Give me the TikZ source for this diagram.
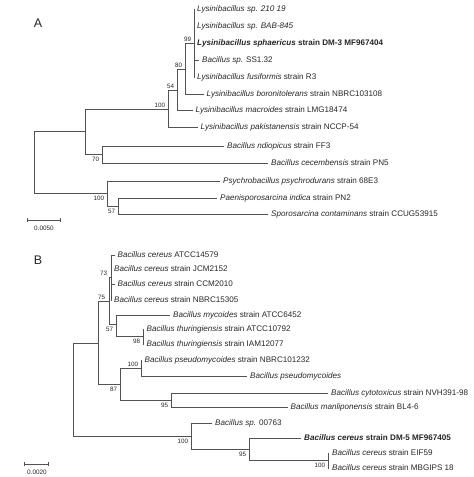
\documentclass[tikz,border=0pt]{standalone}
\usepackage{fontspec}
\setmainfont{Liberation Sans}
\usetikzlibrary{arrows.meta}
\begin{document}
\begin{tikzpicture}[x=1pt,y=-1pt,
  br/.style={draw=black!68, line width=0.8pt},
  lf/.style={anchor=west, inner sep=0pt, font=\fontsize{8.1}{9}\selectfont, text=black!85},
  bs/.style={inner sep=0.6pt, font=\fontsize{6.3}{7}\selectfont, text=black!85},
  bsa/.style={bs, anchor=south east},
  bsb/.style={bs, anchor=north east},
  panel/.style={font=\fontsize{12.5}{13}\selectfont, text=black!85},
  sbar/.style={draw=black!68, line width=0.8pt, {Bar[width=4pt]}-{Bar[width=4pt]}},
  sbl/.style={inner sep=0pt, font=\fontsize{6.4}{7}\selectfont, text=black!85}]
\useasboundingbox (0,0) rectangle (474,477);

% ================= Tree A =================
\node[panel] (pA) at (38,23) {A};
% leaf tips
\coordinate (L1) at (194.5,9);
\coordinate (L2) at (194.5,26);
\coordinate (L3) at (194.5,43);
\coordinate (L4) at (199,60);
\coordinate (L5) at (194.5,77);
\coordinate (L6) at (204,94);
\coordinate (L7) at (193,110);
\coordinate (L8) at (198,127);
\coordinate (L9) at (224,146);
\coordinate (L10) at (268,163);
\coordinate (L11) at (220,181);
\coordinate (L12) at (217,198);
\coordinate (L13) at (268,214);
% internal nodes
\coordinate (n99) at (194,43);
\coordinate (n80) at (185,69);
\coordinate (n54) at (177,90);
\coordinate (nA100) at (168,109);
\coordinate (nA1) at (85,131);
\coordinate (n70) at (102,154);
\coordinate (rA) at (34,162);
\coordinate (nA100b) at (107,193);
\coordinate (nA57) at (118,206);

\foreach \c in {L1,L2,L3,L4,L5} \draw[br] (n99) |- (\c);
\draw[br] (n80) |- (n99); \draw[br] (n80) |- (L6);
\draw[br] (n54) |- (n80); \draw[br] (n54) |- (L7);
\draw[br] (nA100) |- (n54); \draw[br] (nA100) |- (L8);
\draw[br] (nA1) |- (nA100); \draw[br] (nA1) |- (n70);
\draw[br] (n70) |- (L9); \draw[br] (n70) |- (L10);
\draw[br] (rA) |- (nA1); \draw[br] (rA) |- (nA100b);
\draw[br] (nA100b) |- (L11); \draw[br] (nA100b) |- (nA57);
\draw[br] (nA57) |- (L12); \draw[br] (nA57) |- (L13);

\node[lf] (tL1) at (197,9) {\textit{Lysinibacillus sp. 210 19}};
\node[lf] (tL2) at (197,26) {\textit{Lysinibacillus sp. BAB-845}};
\node[lf] (tL3) at (197,43) {\bfseries\textit{Lysinibacillus sphaericus} strain DM-3 MF967404};
\node[lf] (tL4) at (202,60) {\textit{Bacillus sp.} SS1.32};
\node[lf] (tL5) at (197,77) {\textit{Lysinibacillus fusiformis} strain R3};
\node[lf] (tL6) at (206.5,94) {\textit{Lysinibacillus boronitolerans} strain NBRC103108};
\node[lf] (tL7) at (195.5,110) {\textit{Lysinibacillus macroides} strain LMG18474};
\node[lf] (tL8) at (200.5,127) {\textit{Lysinibacillus pakistanensis} strain NCCP-54};
\node[lf] (tL9) at (227,146) {\textit{Bacillus ndiopicus} strain FF3};
\node[lf] (tL10) at (271,163) {\textit{Bacillus cecembensis} strain PN5};
\node[lf] (tL11) at (223,181) {\textit{Psychrobacillus psychrodurans} strain 68E3};
\node[lf] (tL12) at (220,198) {\textit{Paenisporosarcina indica} strain PN2};
\node[lf] (tL13) at (271,214) {\textit{Sporosarcina contaminans} strain CCUG53915};

\node[bsa] (b99) at ([shift={(-2,-1)}]n99) {99};
\node[bsa] (b80) at ([shift={(-2,-1)}]n80) {80};
\node[bsa] (b54) at ([shift={(-2,-1)}]n54) {54};
\node[bsa] (bA100) at ([shift={(-2,-1)}]nA100) {100};
\node[bsb] (b70) at ([shift={(-2,2)}]n70) {70};
\node[bsb] (bA100b) at ([shift={(-2,2)}]nA100b) {100};
\node[bsb] (bA57) at ([shift={(-2,2)}]nA57) {57};

\coordinate (sA1) at (27,220);
\coordinate (sA2) at (61,220);
\draw[sbar] (sA1) -- (sA2);
\node[sbl] (sAl) at (44,228) {0.0050};

% ================= Tree B =================
\node[panel] (pB) at (38,260) {B};
\coordinate (B1) at (115,255);
\coordinate (B2) at (111.5,269);
\coordinate (B3) at (115,284);
\coordinate (B4) at (111.5,300);
\coordinate (B5) at (170,315);
\coordinate (B6) at (144,329);
\coordinate (B7) at (144,344);
\coordinate (B8) at (142,360);
\coordinate (B9) at (247,376);
\coordinate (B10) at (328,393);
\coordinate (B11) at (288,407);
\coordinate (B12) at (212,423);
\coordinate (B13) at (301,438);
\coordinate (B14) at (329,453);
\coordinate (B15) at (329,468);

\coordinate (n73) at (111,277);
\coordinate (n75) at (109,301);
\coordinate (nB57) at (116,324);
\coordinate (n98) at (143,336);
\coordinate (nB2) at (98,343);
\coordinate (n87) at (120,384);
\coordinate (nB100c) at (141,368);
\coordinate (n95a) at (171,400);
\coordinate (rB) at (73,390);
\coordinate (nB100d) at (191,436);
\coordinate (n95b) at (249,449);
\coordinate (nB100e) at (328,460.5);

\foreach \c in {B1,B2,B3,B4} \draw[br] (n73) |- (\c);
\draw[br] (n75) |- (n73); \draw[br] (n75) |- (nB57);
\draw[br] (nB57) |- (B5); \draw[br] (nB57) |- (n98);
\draw[br] (n98) |- (B6); \draw[br] (n98) |- (B7);
\draw[br] (nB2) |- (n75); \draw[br] (nB2) |- (n87);
\draw[br] (n87) |- (nB100c); \draw[br] (n87) |- (n95a);
\draw[br] (nB100c) |- (B8); \draw[br] (nB100c) |- (B9);
\draw[br] (n95a) |- (B10); \draw[br] (n95a) |- (B11);
\draw[br] (rB) |- (nB2); \draw[br] (rB) |- (nB100d);
\draw[br] (nB100d) |- (B12); \draw[br] (nB100d) |- (n95b);
\draw[br] (n95b) |- (B13); \draw[br] (n95b) |- (nB100e);
\draw[br] (nB100e) |- (B14); \draw[br] (nB100e) |- (B15);

\node[lf] (tB1) at (117.5,255) {\textit{Bacillus cereus} ATCC14579};
\node[lf] (tB2) at (114,269) {\textit{Bacillus cereus} strain JCM2152};
\node[lf] (tB3) at (117.5,284) {\textit{Bacillus cereus} strain CCM2010};
\node[lf] (tB4) at (114,300) {\textit{Bacillus cereus} strain NBRC15305};
\node[lf] (tB5) at (173,315) {\textit{Bacillus mycoides} strain ATCC6452};
\node[lf] (tB6) at (146.5,329) {\textit{Bacillus thuringiensis} strain ATCC10792};
\node[lf] (tB7) at (146.5,344) {\textit{Bacillus thuringiensis} strain IAM12077};
\node[lf] (tB8) at (144.5,360) {\textit{Bacillus pseudomycoides} strain NBRC101232};
\node[lf] (tB9) at (250,376) {\textit{Bacillus pseudomycoides}};
\node[lf] (tB10) at (331,393) {\textit{Bacillus cytotoxicus} strain NVH391-98};
\node[lf] (tB11) at (290.5,407) {\textit{Bacillus manliponensis} strain BL4-6};
\node[lf] (tB12) at (215,423) {\textit{Bacillus sp.} 00763};
\node[lf] (tB13) at (304,438) {\bfseries\textit{Bacillus cereus} strain DM-5 MF967405};
\node[lf] (tB14) at (332,453) {\textit{Bacillus cereus} strain EIF59};
\node[lf] (tB15) at (332,468) {\textit{Bacillus cereus} strain MBGIPS 18};

\node[bsa] (b73) at ([shift={(-3,-1)}]n73) {73};
\node[bsa] (b75) at ([shift={(-3,-1)}]n75) {75};
\node[bsb] (bB57) at ([shift={(-2,2)}]nB57) {57};
\node[bsb] (b98) at ([shift={(-2,2)}]n98) {98};
\node[bsa] (bB100c) at ([shift={(-2,-1)}]nB100c) {100};
\node[bsb] (b87) at ([shift={(-2,2)}]n87) {87};
\node[bsb] (b95a) at ([shift={(-2,2)}]n95a) {95};
\node[bsb] (bB100d) at ([shift={(-2,2)}]nB100d) {100};
\node[bsb] (b95b) at ([shift={(-2,2)}]n95b) {95};
\node[bsb] (bB100e) at ([shift={(-2,2)}]nB100e) {100};

\coordinate (sB1) at (24,464);
\coordinate (sB2) at (49,464);
\draw[sbar] (sB1) -- (sB2);
\node[sbl] (sBl) at (37,472) {0.0020};
\end{tikzpicture}
\end{document}
